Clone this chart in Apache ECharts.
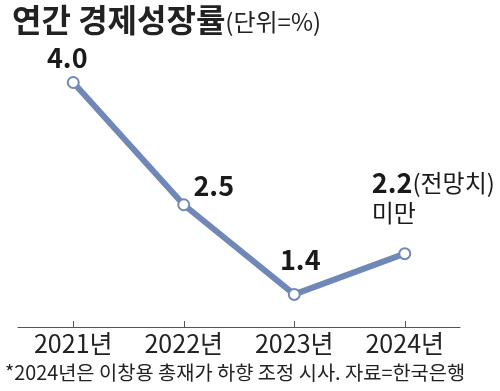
<!DOCTYPE html>
<html><head><meta charset="utf-8">
<script src="https://cdn.jsdelivr.net/npm/echarts@6/dist/echarts.min.js"></script>
<style>html,body{margin:0;padding:0;background:#fff}#c{width:500px;height:391px}</style>
</head><body><div id="c"></div>
<script>
const categories = ['2021년','2022년','2023년','2024년'];
const values = [4.0, 2.5, 1.4, 1.9];
const labelTexts = ['4.0','2.5','1.4','2.2'];
const noteSuffix = ['', '', '', '(전망치)'];
const title = '연간 경제성장률';
const unit = '(단위=%)';
const footnote = '*2024년은 이창용 총재가 하향 조정 시사. 자료=한국은행';

const NUM = '"Noto Sans CJK KR", sans-serif';
const KR = '"Noto Sans CJK KR", sans-serif';
const lineColor = '#7088b9';
const labelOffsets = [[-6, 2], [30, 7], [6, -8], [-33, -14]];

const chart = echarts.init(document.getElementById('c'), null, {renderer: 'canvas'});
chart.setOption({
  animation: false,
  backgroundColor: '#fff',
  title: [{
    text: '{a|' + title + '}{b|' + unit + '}',
    left: 7, top: -5,
    textStyle: {
      rich: {
        a: {fontFamily: KR, fontWeight: 'bold', fontSize: 32, color: '#222', lineHeight: 40},
        b: {fontFamily: KR, fontWeight: 'normal', fontSize: 24, color: '#222', lineHeight: 40, padding: [4,0,0,0]}
      }
    }
  }, {
    text: footnote,
    left: 0, top: 358,
    textStyle: {fontFamily: KR, fontWeight: 'normal', fontSize: 19.8, color: '#222'}
  }],
  grid: {left: 18, right: 40, top: 41.75, bottom: 64, containLabel: false},
  xAxis: {
    type: 'category',
    data: categories,
    boundaryGap: true,
    axisLine: {lineStyle: {color: '#555', width: 1}},
    axisTick: {show: true, inside: true, alignWithLabel: true, length: 6, lineStyle: {color: '#555'}},
    axisLabel: {fontFamily: NUM, fontSize: 25, color: '#222', margin: 4}
  },
  yAxis: {
    type: 'value', min: 1, max: 4.5, show: false,
    splitLine: {show: false}
  },
  series: [{
    type: 'line',
    data: values.map((v, i) => ({
      value: v,
      label: {
        show: true,
        position: 'top',
        offset: labelOffsets[i],
        align: i === 3 ? 'left' : 'center',
        formatter: i === 3
          ? '{n|' + labelTexts[i] + '}{s|' + noteSuffix[i] + '}\n{s|미만}'
          : '{n|' + labelTexts[i] + '}',
        rich: {
          n: {fontFamily: NUM, fontWeight: 'bold', fontSize: 27, color: '#1a1a1a', lineHeight: 30},
          s: {fontFamily: KR, fontWeight: 'normal', fontSize: 24, color: '#1a1a1a', lineHeight: 30}
        }
      }
    })),
    lineStyle: {color: lineColor, width: 6},
    symbol: 'circle',
    symbolSize: 11,
    itemStyle: {color: '#fff', borderColor: lineColor, borderWidth: 2},
    z: 3
  }]
});
</script></body></html>
